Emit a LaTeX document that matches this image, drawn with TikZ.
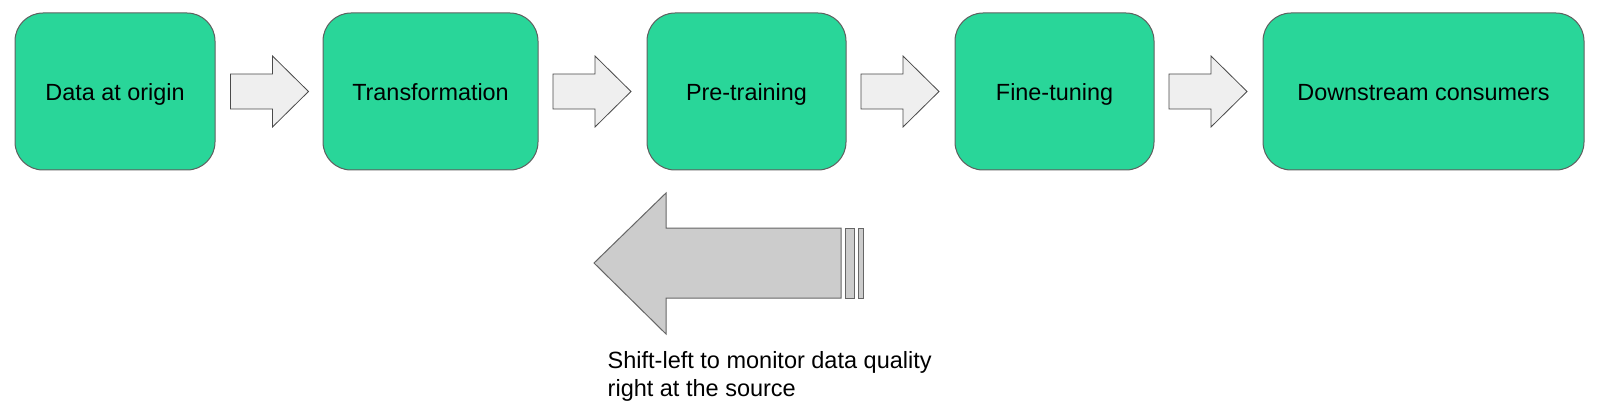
\documentclass[tikz,border=0pt]{standalone}
\usepackage{fontspec}
\setmainfont{Liberation Sans}
\definecolor{boxgreen}{HTML}{29D699}
\definecolor{boxline}{HTML}{5F5F5F}
\definecolor{arrowfill}{HTML}{EFEFEF}
\definecolor{arrowline}{HTML}{4A4A4A}
\definecolor{bigfill}{HTML}{CCCCCC}
\definecolor{bigline}{HTML}{666666}
\begin{document}
\begin{tikzpicture}[x=1pt,y=-1pt,
  stage/.style={draw=boxline,line width=1pt,fill=boxgreen,rounded corners=28pt,
    minimum height=157pt,inner sep=0pt,text height=19pt,text depth=0pt,
    font=\fontsize{23.4}{27}\selectfont},
  flowarrow/.style={draw=arrowline,line width=0.8pt,fill=arrowfill,line join=miter},
  bigarrow/.style={draw=bigline,line width=1pt,fill=bigfill},
  note/.style={anchor=base west,inner sep=0pt,font=\fontsize{23.5}{28}\selectfont}]
\useasboundingbox (0,0) rectangle (1600,414);
\node[stage,minimum width=200pt] (b1) at (115,91.5) {Data at origin};
\node[stage,minimum width=215pt] (b2) at (430.5,91.5) {Transformation};
\node[stage,minimum width=199pt] (b3) at (746.5,91.5) {Pre-training};
\node[stage,minimum width=199pt] (b4) at (1054.5,91.5) {Fine-tuning};
\node[stage,minimum width=321pt] (b5) at (1423.5,91.5) {Downstream consumers};
% small block arrows
\foreach \s in {230.5,553,861,1169}{
  \draw[flowarrow] (\s,74) -- (\s+42,74) -- (\s+42,56) -- (\s+78,91.5) -- (\s+42,127)
    -- (\s+42,109) -- (\s,109) -- cycle;
}
% big left arrow
\draw[bigarrow] (594,263) -- (666,193) -- (666,228) -- (841,228) -- (841,298) -- (666,298) -- (666,334) -- cycle;
\draw[bigarrow] (845,228) rectangle (854,298);
\draw[bigarrow] (858.5,228) rectangle (863,298);
\node[note] (t1) at (607.5,368.3) {Shift-left to monitor data quality};
\node[note] (t2) at (607.5,396.7) {right at the source};
\end{tikzpicture}
\end{document}
